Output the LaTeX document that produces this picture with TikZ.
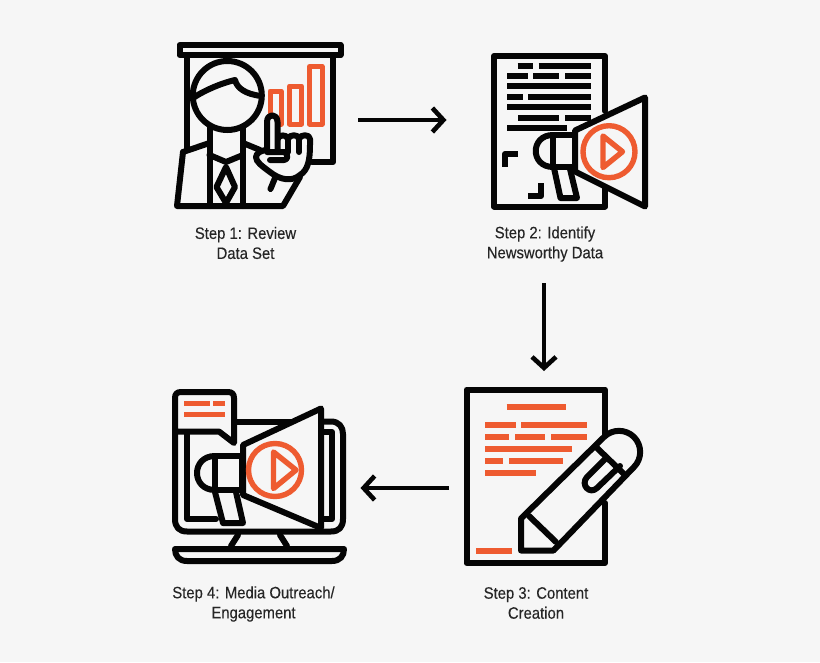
\documentclass[tikz,border=0pt]{standalone}
\usepackage{fontspec}
\setmainfont[FakeStretch=0.9,FakeBold=0.25]{Liberation Sans}
\usetikzlibrary{arrows.meta}
\definecolor{paper}{HTML}{F6F6F6}
\definecolor{ink}{HTML}{050505}
\definecolor{flame}{HTML}{EE5B30}
\begin{document}
\begin{tikzpicture}[x=1pt,y=-1pt,>={Straight Barb[length=11pt,width=24pt,line width=4.6pt]},
    black line/.style={draw=ink,line width=6pt,line join=round,line cap=round},
    text line/.style={draw=ink,line width=5.8pt},
    orange line/.style={draw=flame,line width=5.4pt,line join=round},
    flow/.style={draw=ink,line width=4pt,->},
    step label/.style={align=center,font=\fontsize{16.5}{20}\selectfont,text=black!85}]

    \fill[paper] (0,0) rectangle (820,662);
    \useasboundingbox (0,0) rectangle (820,662);

    % step 1
    \draw[orange line,line width=5pt] (270,124) -- (270,91) -- (281,91) -- (281,124) -- cycle;
    \draw[orange line,line width=5pt] (289.5,124) |- (301.5,86) -- (301.5,124) -- cycle;
    \draw[orange line,line width=5pt] (309.5,124) |- (322,66.5) -- (322,124) -- cycle;
    \draw[black line] (179.5,45) rectangle (340.5,55);
    \draw[black line] (186.5,56) -- (186.5,148);
    \draw[black line] (333,56) -- (333,162) -- (312,162);
    \draw[black line,fill=paper] (227.3,95.5) circle (34.5);
    \draw[black line] (193,98) .. controls (205,90) and (222,83) .. (235,80) .. controls (237,88) and (245,94) .. (261,96);
    \draw[black line] (183,152) -- (177,206) -- (283,206) -- (300,177);
    \draw[black line] (183,152) -- (209.5,143);
    \draw[black line] (243,143) -- (260,150);
    \draw[black line] (209.5,128) -- (209.5,206);
    \draw[black line] (243,128) -- (243,206);
    \draw[black line] (209.5,155) -- (226,162) -- (243,155);
    \draw[black line] (226,167) -- (235,187) -- (226,203) -- (216.5,187) -- cycle;
    \draw[black line,fill=paper] (277.5,150) -- (277.5,122) .. controls (277.5,113) and (267,113) .. (267,122) -- (267,150) .. controls (262,150) and (256,153) .. (256,157) .. controls (256,162) and (262,166) .. (270,172) .. controls (280,180) and (292,182) .. (300,175) .. controls (308,170) and (310,160) .. (310,145) -- (310,139) .. controls (310,134) and (300,134) .. (299,139) .. controls (299,134) and (289,134) .. (288,139) .. controls (287,134) and (278,134) .. (277.5,140);
    \draw[black line] (288,139) -- (288,152);
    \draw[black line] (299,139) -- (299,152);
    \draw[black line] (267,152) -- (285,152) .. controls (289,156) and (287,160) .. (284,160) -- (270,160);
    \draw[black line] (275,178) -- (270.5,189);

    % step 2
    \draw[black line] (605,111) -- (605,56) -- (494,56) -- (494,206.5) -- (605,206.5) -- (605,184);
    \foreach \ya/\xa/\xb in {65.7/517.7/533.3,65.7/538.7/590.7,76/507/528,76/533/559,76/565/591,86.3/507/591,96.7/507/523,96.7/528/591,107.3/507/591,117.7/518/559,117.7/565/591,128/507/567}
        \draw[text line] (\xa,\ya) -- (\xb,\ya);
    \draw[black line,line cap=butt] (517.5,154) -- (505,154) -- (505,167);
    \draw[black line,line cap=butt] (528,196) -- (541,196) -- (541,183);
    \draw[black line,fill=paper] (575,130.5) -- (645,97.5) -- (645,206.5) -- (575,171.5) -- cycle;
    \draw[black line,fill=paper] (553,135) -- (575,135) -- (575,167) -- (553,167) -- cycle;
    \draw[black line] (553,135) .. controls (530,135) and (530,167) .. (553,167);
    \draw[black line] (554,168) -- (560.5,198) -- (577,198) -- (570,169);
    \draw[orange line] (609,151.7) circle (26);
    \draw[orange line] (603,136) -- (622.5,151.7) -- (603,167.5) -- cycle;

    % step 3
    \draw[black line] (605,435) -- (605,389.5) -- (466.5,389.5) -- (466.5,563) -- (605,563) -- (605,503);
    \foreach \ya/\xa/\xb in {407.3/506.7/565.7,425/485/515.7,425/521/586.7,437/485/509,437/515/545,437/551/586.7,449/485/572.3,461/485/503.3,461/509/563.3,473/485/536}
        \draw[orange line,line width=5.8pt] (\xa,\ya) -- (\xb,\ya);
    \draw[orange line,line width=6pt] (476,550.7) -- (512.3,550.7);
    \draw[black line,fill=paper] (521,518.5) -- (604,437) .. controls (612.2,428.8) and (625.8,428.8) .. (634,437) .. controls (642.2,445.2) and (642.2,458.8) .. (634,467) -- (553.5,550.5) -- (521,550.5) -- cycle;
    \draw[black line] (529,516) -- (556,542);
    \draw[black line] (596,447) -- (625,475);
    \draw[black line] (606,458) -- (587,477) .. controls (580,485) and (590,495) .. (597,488) -- (620,466);

    % step 4
    \draw[black line] (234,421.5) -- (296,421.5);
    \draw[black line] (323,421.5) -- (331,421.5) .. controls (339,421.5) and (343,427) .. (343,434) -- (343,519) .. controls (343,527) and (339,531.5) .. (331,531.5) -- (187,531.5) .. controls (179,531.5) and (175,527) .. (175,519) -- (175,432);
    \draw[black line] (187,432) -- (187,519) -- (216,519);
    \draw[black line] (323,432) -- (332,432) -- (332,519) -- (323,519);
    \draw[black line] (181,392) -- (228,392) .. controls (232,392) and (234,394) .. (234,398) -- (234,443) -- (219,431.5) -- (175,431.5) -- (175,398) .. controls (175,394) and (177,392) .. (181,392) -- cycle;
    \foreach \ya/\xa/\xb in {403.3/184/210,403.3/213.3/225,414.3/184/225}
        \draw[orange line] (\xa,\ya) -- (\xb,\ya);
    \draw[black line,fill=paper] (243,445) -- (321,408.5) -- (321,528) -- (243,495) -- cycle;
    \draw[black line,fill=paper] (215,456) -- (242,456) -- (242,490) -- (215,490) -- cycle;
    \draw[black line] (215,456) .. controls (191,456) and (191,490) .. (215,490);
    \draw[black line] (215,492) -- (223,523) -- (243,523) -- (236,492);
    \draw[orange line] (275,470) circle (26.5);
    \draw[orange line] (273.5,452) -- (296,470) -- (273.5,488.5) -- cycle;
    \draw[black line] (238,535) -- (231,546);
    \draw[black line] (280,535) -- (287,546);
    \draw[black line] (175,549) -- (344,549) .. controls (344,556) and (340,561) .. (332,561) -- (187,561) .. controls (179,561) and (175,556) .. (175,549) -- cycle;

    % step labels
    \node[step label] (1) at (245.5,243) {Step 1: Review\\Data Set};
    \node[step label] (2) at (545,244) {Step 2: Identify\\Newsworthy Data};
    \node[step label] (3) at (536,603) {Step 3: Content\\Creation};
    \node[step label] (4) at (253.5,604) {Step 4: Media Outreach/\\Engagement};

    % arrows between the icons
    \coordinate (1out) at (358,120);
    \coordinate (2in) at (446.5,120);
    \coordinate (2out) at (544,283);
    \coordinate (3in) at (544,371);
    \coordinate (3out) at (449,488);
    \coordinate (4in) at (360.5,488);
    \draw[flow] (1out) to (2in);
    \draw[flow] (2out) to (3in);
    \draw[flow] (3out) to (4in);
\end{tikzpicture}
\end{document}
